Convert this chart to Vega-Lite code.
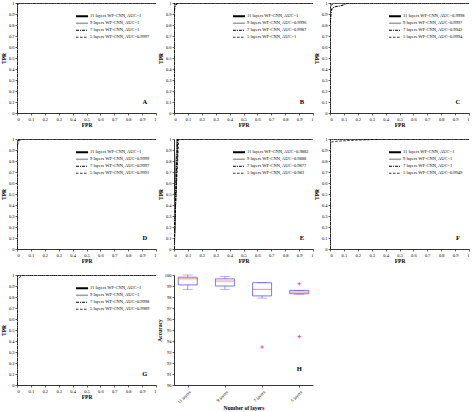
{
"$schema": "https://vega.github.io/schema/vega-lite/v6.json",
"padding": {"left": 1, "top": 0, "right": 1, "bottom": 0},
"columns": 3,
"spacing": {"row": 8, "column": 0},
"datasets": {
"roc": [
{"p":"A","k":0,"label":"11 layers WF-CNN, AUC=1","i":0,"fpr":0,"tpr":0},
{"p":"A","k":0,"label":"11 layers WF-CNN, AUC=1","i":1,"fpr":0,"tpr":1},
{"p":"A","k":0,"label":"11 layers WF-CNN, AUC=1","i":2,"fpr":1,"tpr":1},
{"p":"A","k":1,"label":"9 layers WF-CNN, AUC=1","i":0,"fpr":0,"tpr":0},
{"p":"A","k":1,"label":"9 layers WF-CNN, AUC=1","i":1,"fpr":0,"tpr":1},
{"p":"A","k":1,"label":"9 layers WF-CNN, AUC=1","i":2,"fpr":1,"tpr":1},
{"p":"A","k":2,"label":"7 layers WF-CNN, AUC=1","i":0,"fpr":0,"tpr":0},
{"p":"A","k":2,"label":"7 layers WF-CNN, AUC=1","i":1,"fpr":0,"tpr":1},
{"p":"A","k":2,"label":"7 layers WF-CNN, AUC=1","i":2,"fpr":1,"tpr":1},
{"p":"A","k":3,"label":"5 layers WF-CNN, AUC=0.9997","i":0,"fpr":0,"tpr":0},
{"p":"A","k":3,"label":"5 layers WF-CNN, AUC=0.9997","i":1,"fpr":0,"tpr":0.98},
{"p":"A","k":3,"label":"5 layers WF-CNN, AUC=0.9997","i":2,"fpr":0.01,"tpr":0.99},
{"p":"A","k":3,"label":"5 layers WF-CNN, AUC=0.9997","i":3,"fpr":0.02,"tpr":1},
{"p":"A","k":3,"label":"5 layers WF-CNN, AUC=0.9997","i":4,"fpr":1,"tpr":1},

{"p":"B","k":0,"label":"11 layers WF-CNN, AUC=1","i":0,"fpr":0,"tpr":0},
{"p":"B","k":0,"label":"11 layers WF-CNN, AUC=1","i":1,"fpr":0,"tpr":1},
{"p":"B","k":0,"label":"11 layers WF-CNN, AUC=1","i":2,"fpr":1,"tpr":1},
{"p":"B","k":1,"label":"9 layers WF-CNN, AUC=0.9996","i":0,"fpr":0,"tpr":0},
{"p":"B","k":1,"label":"9 layers WF-CNN, AUC=0.9996","i":1,"fpr":0,"tpr":0.97},
{"p":"B","k":1,"label":"9 layers WF-CNN, AUC=0.9996","i":2,"fpr":0.01,"tpr":0.99},
{"p":"B","k":1,"label":"9 layers WF-CNN, AUC=0.9996","i":3,"fpr":0.02,"tpr":1},
{"p":"B","k":1,"label":"9 layers WF-CNN, AUC=0.9996","i":4,"fpr":1,"tpr":1},
{"p":"B","k":2,"label":"7 layers WF-CNN, AUC=0.9987","i":0,"fpr":0,"tpr":0},
{"p":"B","k":2,"label":"7 layers WF-CNN, AUC=0.9987","i":1,"fpr":0,"tpr":0.88},
{"p":"B","k":2,"label":"7 layers WF-CNN, AUC=0.9987","i":2,"fpr":0.005,"tpr":0.95},
{"p":"B","k":2,"label":"7 layers WF-CNN, AUC=0.9987","i":3,"fpr":0.01,"tpr":0.98},
{"p":"B","k":2,"label":"7 layers WF-CNN, AUC=0.9987","i":4,"fpr":0.03,"tpr":1},
{"p":"B","k":2,"label":"7 layers WF-CNN, AUC=0.9987","i":5,"fpr":1,"tpr":1},
{"p":"B","k":3,"label":"5 layers WF-CNN, AUC=1","i":0,"fpr":0,"tpr":0},
{"p":"B","k":3,"label":"5 layers WF-CNN, AUC=1","i":1,"fpr":0,"tpr":1},
{"p":"B","k":3,"label":"5 layers WF-CNN, AUC=1","i":2,"fpr":1,"tpr":1},

{"p":"C","k":0,"label":"11 layers WF-CNN, AUC=0.9998","i":0,"fpr":0,"tpr":0},
{"p":"C","k":0,"label":"11 layers WF-CNN, AUC=0.9998","i":1,"fpr":0,"tpr":0.98},
{"p":"C","k":0,"label":"11 layers WF-CNN, AUC=0.9998","i":2,"fpr":0.01,"tpr":1},
{"p":"C","k":0,"label":"11 layers WF-CNN, AUC=0.9998","i":3,"fpr":1,"tpr":1},
{"p":"C","k":1,"label":"9 layers WF-CNN, AUC=0.9997","i":0,"fpr":0,"tpr":0},
{"p":"C","k":1,"label":"9 layers WF-CNN, AUC=0.9997","i":1,"fpr":0,"tpr":0.97},
{"p":"C","k":1,"label":"9 layers WF-CNN, AUC=0.9997","i":2,"fpr":0.01,"tpr":0.99},
{"p":"C","k":1,"label":"9 layers WF-CNN, AUC=0.9997","i":3,"fpr":0.02,"tpr":1},
{"p":"C","k":1,"label":"9 layers WF-CNN, AUC=0.9997","i":4,"fpr":1,"tpr":1},
{"p":"C","k":2,"label":"7 layers WF-CNN, AUC=0.9942","i":0,"fpr":0,"tpr":0},
{"p":"C","k":2,"label":"7 layers WF-CNN, AUC=0.9942","i":1,"fpr":0,"tpr":0.8},
{"p":"C","k":2,"label":"7 layers WF-CNN, AUC=0.9942","i":2,"fpr":0.01,"tpr":0.94},
{"p":"C","k":2,"label":"7 layers WF-CNN, AUC=0.9942","i":3,"fpr":0.03,"tpr":0.965},
{"p":"C","k":2,"label":"7 layers WF-CNN, AUC=0.9942","i":4,"fpr":0.08,"tpr":0.975},
{"p":"C","k":2,"label":"7 layers WF-CNN, AUC=0.9942","i":5,"fpr":0.13,"tpr":1},
{"p":"C","k":2,"label":"7 layers WF-CNN, AUC=0.9942","i":6,"fpr":1,"tpr":1},
{"p":"C","k":3,"label":"5 layers WF-CNN, AUC=0.9994","i":0,"fpr":0,"tpr":0},
{"p":"C","k":3,"label":"5 layers WF-CNN, AUC=0.9994","i":1,"fpr":0,"tpr":0.95},
{"p":"C","k":3,"label":"5 layers WF-CNN, AUC=0.9994","i":2,"fpr":0.01,"tpr":0.98},
{"p":"C","k":3,"label":"5 layers WF-CNN, AUC=0.9994","i":3,"fpr":0.03,"tpr":1},
{"p":"C","k":3,"label":"5 layers WF-CNN, AUC=0.9994","i":4,"fpr":1,"tpr":1},

{"p":"D","k":0,"label":"11 layers WF-CNN, AUC=1","i":0,"fpr":0,"tpr":0},
{"p":"D","k":0,"label":"11 layers WF-CNN, AUC=1","i":1,"fpr":0,"tpr":1},
{"p":"D","k":0,"label":"11 layers WF-CNN, AUC=1","i":2,"fpr":1,"tpr":1},
{"p":"D","k":1,"label":"9 layers WF-CNN, AUC=0.9999","i":0,"fpr":0,"tpr":0},
{"p":"D","k":1,"label":"9 layers WF-CNN, AUC=0.9999","i":1,"fpr":0,"tpr":0.99},
{"p":"D","k":1,"label":"9 layers WF-CNN, AUC=0.9999","i":2,"fpr":0.01,"tpr":1},
{"p":"D","k":1,"label":"9 layers WF-CNN, AUC=0.9999","i":3,"fpr":1,"tpr":1},
{"p":"D","k":2,"label":"7 layers WF-CNN, AUC=0.9997","i":0,"fpr":0,"tpr":0},
{"p":"D","k":2,"label":"7 layers WF-CNN, AUC=0.9997","i":1,"fpr":0,"tpr":0.97},
{"p":"D","k":2,"label":"7 layers WF-CNN, AUC=0.9997","i":2,"fpr":0.01,"tpr":0.99},
{"p":"D","k":2,"label":"7 layers WF-CNN, AUC=0.9997","i":3,"fpr":0.02,"tpr":1},
{"p":"D","k":2,"label":"7 layers WF-CNN, AUC=0.9997","i":4,"fpr":1,"tpr":1},
{"p":"D","k":3,"label":"5 layers WF-CNN, AUC=0.9991","i":0,"fpr":0,"tpr":0},
{"p":"D","k":3,"label":"5 layers WF-CNN, AUC=0.9991","i":1,"fpr":0,"tpr":0.93},
{"p":"D","k":3,"label":"5 layers WF-CNN, AUC=0.9991","i":2,"fpr":0.01,"tpr":0.97},
{"p":"D","k":3,"label":"5 layers WF-CNN, AUC=0.9991","i":3,"fpr":0.03,"tpr":1},
{"p":"D","k":3,"label":"5 layers WF-CNN, AUC=0.9991","i":4,"fpr":1,"tpr":1},

{"p":"E","k":0,"label":"11 layers WF-CNN, AUC=0.9882","i":0,"fpr":0,"tpr":0},
{"p":"E","k":0,"label":"11 layers WF-CNN, AUC=0.9882","i":1,"fpr":0.01,"tpr":0.5},
{"p":"E","k":0,"label":"11 layers WF-CNN, AUC=0.9882","i":2,"fpr":0.024,"tpr":1},
{"p":"E","k":0,"label":"11 layers WF-CNN, AUC=0.9882","i":3,"fpr":1,"tpr":1},
{"p":"E","k":1,"label":"9 layers WF-CNN, AUC=0.9888","i":0,"fpr":0,"tpr":0},
{"p":"E","k":1,"label":"9 layers WF-CNN, AUC=0.9888","i":1,"fpr":0.011,"tpr":0.5},
{"p":"E","k":1,"label":"9 layers WF-CNN, AUC=0.9888","i":2,"fpr":0.022,"tpr":1},
{"p":"E","k":1,"label":"9 layers WF-CNN, AUC=0.9888","i":3,"fpr":1,"tpr":1},
{"p":"E","k":2,"label":"7 layers WF-CNN, AUC=0.9877","i":0,"fpr":0,"tpr":0},
{"p":"E","k":2,"label":"7 layers WF-CNN, AUC=0.9877","i":1,"fpr":0.012,"tpr":0.5},
{"p":"E","k":2,"label":"7 layers WF-CNN, AUC=0.9877","i":2,"fpr":0.025,"tpr":1},
{"p":"E","k":2,"label":"7 layers WF-CNN, AUC=0.9877","i":3,"fpr":1,"tpr":1},
{"p":"E","k":3,"label":"5 layers WF-CNN, AUC=0.983","i":0,"fpr":0,"tpr":0},
{"p":"E","k":3,"label":"5 layers WF-CNN, AUC=0.983","i":1,"fpr":0.015,"tpr":0.5},
{"p":"E","k":3,"label":"5 layers WF-CNN, AUC=0.983","i":2,"fpr":0.034,"tpr":1},
{"p":"E","k":3,"label":"5 layers WF-CNN, AUC=0.983","i":3,"fpr":1,"tpr":1},

{"p":"F","k":0,"label":"11 layers WF-CNN, AUC=1","i":0,"fpr":0,"tpr":0},
{"p":"F","k":0,"label":"11 layers WF-CNN, AUC=1","i":1,"fpr":0,"tpr":1},
{"p":"F","k":0,"label":"11 layers WF-CNN, AUC=1","i":2,"fpr":1,"tpr":1},
{"p":"F","k":1,"label":"9 layers WF-CNN, AUC=1","i":0,"fpr":0,"tpr":0},
{"p":"F","k":1,"label":"9 layers WF-CNN, AUC=1","i":1,"fpr":0,"tpr":1},
{"p":"F","k":1,"label":"9 layers WF-CNN, AUC=1","i":2,"fpr":1,"tpr":1},
{"p":"F","k":2,"label":"7 layers WF-CNN, AUC=1","i":0,"fpr":0,"tpr":0},
{"p":"F","k":2,"label":"7 layers WF-CNN, AUC=1","i":1,"fpr":0,"tpr":1},
{"p":"F","k":2,"label":"7 layers WF-CNN, AUC=1","i":2,"fpr":1,"tpr":1},
{"p":"F","k":3,"label":"5 layers WF-CNN, AUC=0.9949","i":0,"fpr":0,"tpr":0},
{"p":"F","k":3,"label":"5 layers WF-CNN, AUC=0.9949","i":1,"fpr":0,"tpr":0.97},
{"p":"F","k":3,"label":"5 layers WF-CNN, AUC=0.9949","i":2,"fpr":0.05,"tpr":0.98},
{"p":"F","k":3,"label":"5 layers WF-CNN, AUC=0.9949","i":3,"fpr":0.2,"tpr":0.99},
{"p":"F","k":3,"label":"5 layers WF-CNN, AUC=0.9949","i":4,"fpr":0.4,"tpr":1},
{"p":"F","k":3,"label":"5 layers WF-CNN, AUC=0.9949","i":5,"fpr":1,"tpr":1},

{"p":"G","k":0,"label":"11 layers WF-CNN, AUC=1","i":0,"fpr":0,"tpr":0},
{"p":"G","k":0,"label":"11 layers WF-CNN, AUC=1","i":1,"fpr":0,"tpr":1},
{"p":"G","k":0,"label":"11 layers WF-CNN, AUC=1","i":2,"fpr":1,"tpr":1},
{"p":"G","k":1,"label":"9 layers WF-CNN, AUC=1","i":0,"fpr":0,"tpr":0},
{"p":"G","k":1,"label":"9 layers WF-CNN, AUC=1","i":1,"fpr":0,"tpr":1},
{"p":"G","k":1,"label":"9 layers WF-CNN, AUC=1","i":2,"fpr":1,"tpr":1},
{"p":"G","k":2,"label":"7 layers WF-CNN, AUC=0.9998","i":0,"fpr":0,"tpr":0},
{"p":"G","k":2,"label":"7 layers WF-CNN, AUC=0.9998","i":1,"fpr":0,"tpr":0.98},
{"p":"G","k":2,"label":"7 layers WF-CNN, AUC=0.9998","i":2,"fpr":0.01,"tpr":1},
{"p":"G","k":2,"label":"7 layers WF-CNN, AUC=0.9998","i":3,"fpr":1,"tpr":1},
{"p":"G","k":3,"label":"5 layers WF-CNN, AUC=0.9989","i":0,"fpr":0,"tpr":0},
{"p":"G","k":3,"label":"5 layers WF-CNN, AUC=0.9989","i":1,"fpr":0,"tpr":0.95},
{"p":"G","k":3,"label":"5 layers WF-CNN, AUC=0.9989","i":2,"fpr":0.01,"tpr":0.97},
{"p":"G","k":3,"label":"5 layers WF-CNN, AUC=0.9989","i":3,"fpr":0.03,"tpr":0.99},
{"p":"G","k":3,"label":"5 layers WF-CNN, AUC=0.9989","i":4,"fpr":0.05,"tpr":1},
{"p":"G","k":3,"label":"5 layers WF-CNN, AUC=0.9989","i":5,"fpr":1,"tpr":1}
],
"panels": [{"p":"A"},{"p":"B"},{"p":"C"},{"p":"D"},{"p":"E"},{"p":"F"},{"p":"G"}],
"box": [
{"layers":"11 layers","lower":98.7,"q1":99.1,"median":99.65,"q3":99.8,"upper":100},
{"layers":"9 layers","lower":98.7,"q1":99.0,"median":99.45,"q3":99.65,"upper":99.85},
{"layers":"7 layers","lower":97.9,"q1":98.1,"median":98.7,"q3":99.3,"upper":99.3},
{"layers":"5 layers","lower":98.25,"q1":98.3,"median":98.45,"q3":98.6,"upper":98.6}
],
"outliers": [
{"layers":"7 layers","acc":93.45},
{"layers":"5 layers","acc":99.2},
{"layers":"5 layers","acc":94.4}
]
},
"concat": [
{"width":139,"height":110,"layer":[
 {"data":{"name":"roc"},"transform":[{"filter":"datum.p === 'A'"}],"mark":{"type":"line","clip":true},
  "encoding":{
   "x":{"field":"fpr","type":"quantitative","scale":{"domain":[0,1]},"axis":{"values":[0,0.1,0.2,0.3,0.4,0.5,0.6,0.7,0.8,0.9,1],"format":"~g","labelOverlap":false,"title":"FPR"}},
   "y":{"field":"tpr","type":"quantitative","scale":{"domain":[0,1]},"axis":{"values":[0,0.1,0.2,0.3,0.4,0.5,0.6,0.7,0.8,0.9,1],"format":"~g","labelOverlap":false,"title":"TPR"}},
   "order":{"field":"i"},
   "strokeDash":{"field":"label","type":"ordinal","sort":{"field":"k","op":"min"},"scale":{"range":[[1,0],[1,0],[3,1,1,1],[2.5,1.5]]},"legend":{"title":null}},
   "color":{"field":"label","type":"ordinal","sort":{"field":"k","op":"min"},"scale":{"range":["#000000","#a0a0a0","#000000","#000000"]},"legend":{"title":null}},
   "strokeWidth":{"field":"label","type":"ordinal","sort":{"field":"k","op":"min"},"scale":{"range":[1.8,0.8,1,1]},"legend":{"title":null}}
  }},
 {"data":{"name":"panels"},"transform":[{"filter":"datum.p === 'A'"}],"mark":{"type":"text","fontWeight":"bold","fontSize":6.5},
  "encoding":{"x":{"datum":0.92,"type":"quantitative","axis":{"values":[0,0.1,0.2,0.3,0.4,0.5,0.6,0.7,0.8,0.9,1],"format":"~g","labelOverlap":false,"title":"FPR"}},"y":{"datum":0.1,"type":"quantitative","axis":{"values":[0,0.1,0.2,0.3,0.4,0.5,0.6,0.7,0.8,0.9,1],"format":"~g","labelOverlap":false,"title":"TPR"}},"text":{"field":"p"}}}
]},
{"width":139,"height":110,"layer":[
 {"data":{"name":"roc"},"transform":[{"filter":"datum.p === 'B'"}],"mark":{"type":"line","clip":true},
  "encoding":{
   "x":{"field":"fpr","type":"quantitative","scale":{"domain":[0,1]},"axis":{"values":[0,0.1,0.2,0.3,0.4,0.5,0.6,0.7,0.8,0.9,1],"format":"~g","labelOverlap":false,"title":"FPR"}},
   "y":{"field":"tpr","type":"quantitative","scale":{"domain":[0,1]},"axis":{"values":[0,0.1,0.2,0.3,0.4,0.5,0.6,0.7,0.8,0.9,1],"format":"~g","labelOverlap":false,"title":"TPR"}},
   "order":{"field":"i"},
   "strokeDash":{"field":"label","type":"ordinal","sort":{"field":"k","op":"min"},"scale":{"range":[[1,0],[1,0],[3,1,1,1],[2.5,1.5]]},"legend":{"title":null}},
   "color":{"field":"label","type":"ordinal","sort":{"field":"k","op":"min"},"scale":{"range":["#000000","#a0a0a0","#000000","#000000"]},"legend":{"title":null}},
   "strokeWidth":{"field":"label","type":"ordinal","sort":{"field":"k","op":"min"},"scale":{"range":[1.8,0.8,1,1]},"legend":{"title":null}}
  }},
 {"data":{"name":"panels"},"transform":[{"filter":"datum.p === 'B'"}],"mark":{"type":"text","fontWeight":"bold","fontSize":6.5},
  "encoding":{"x":{"datum":0.92,"type":"quantitative","axis":{"values":[0,0.1,0.2,0.3,0.4,0.5,0.6,0.7,0.8,0.9,1],"format":"~g","labelOverlap":false,"title":"FPR"}},"y":{"datum":0.1,"type":"quantitative","axis":{"values":[0,0.1,0.2,0.3,0.4,0.5,0.6,0.7,0.8,0.9,1],"format":"~g","labelOverlap":false,"title":"TPR"}},"text":{"field":"p"}}}
]},
{"width":139,"height":110,"layer":[
 {"data":{"name":"roc"},"transform":[{"filter":"datum.p === 'C'"}],"mark":{"type":"line","clip":true},
  "encoding":{
   "x":{"field":"fpr","type":"quantitative","scale":{"domain":[0,1]},"axis":{"values":[0,0.1,0.2,0.3,0.4,0.5,0.6,0.7,0.8,0.9,1],"format":"~g","labelOverlap":false,"title":"FPR"}},
   "y":{"field":"tpr","type":"quantitative","scale":{"domain":[0,1]},"axis":{"values":[0,0.1,0.2,0.3,0.4,0.5,0.6,0.7,0.8,0.9,1],"format":"~g","labelOverlap":false,"title":"TPR"}},
   "order":{"field":"i"},
   "strokeDash":{"field":"label","type":"ordinal","sort":{"field":"k","op":"min"},"scale":{"range":[[1,0],[1,0],[3,1,1,1],[2.5,1.5]]},"legend":{"title":null}},
   "color":{"field":"label","type":"ordinal","sort":{"field":"k","op":"min"},"scale":{"range":["#000000","#a0a0a0","#000000","#000000"]},"legend":{"title":null}},
   "strokeWidth":{"field":"label","type":"ordinal","sort":{"field":"k","op":"min"},"scale":{"range":[1.8,0.8,1,1]},"legend":{"title":null}}
  }},
 {"data":{"name":"panels"},"transform":[{"filter":"datum.p === 'C'"}],"mark":{"type":"text","fontWeight":"bold","fontSize":6.5},
  "encoding":{"x":{"datum":0.92,"type":"quantitative","axis":{"values":[0,0.1,0.2,0.3,0.4,0.5,0.6,0.7,0.8,0.9,1],"format":"~g","labelOverlap":false,"title":"FPR"}},"y":{"datum":0.1,"type":"quantitative","axis":{"values":[0,0.1,0.2,0.3,0.4,0.5,0.6,0.7,0.8,0.9,1],"format":"~g","labelOverlap":false,"title":"TPR"}},"text":{"field":"p"}}}
]},
{"width":139,"height":110,"layer":[
 {"data":{"name":"roc"},"transform":[{"filter":"datum.p === 'D'"}],"mark":{"type":"line","clip":true},
  "encoding":{
   "x":{"field":"fpr","type":"quantitative","scale":{"domain":[0,1]},"axis":{"values":[0,0.1,0.2,0.3,0.4,0.5,0.6,0.7,0.8,0.9,1],"format":"~g","labelOverlap":false,"title":"FPR"}},
   "y":{"field":"tpr","type":"quantitative","scale":{"domain":[0,1]},"axis":{"values":[0,0.1,0.2,0.3,0.4,0.5,0.6,0.7,0.8,0.9,1],"format":"~g","labelOverlap":false,"title":"TPR"}},
   "order":{"field":"i"},
   "strokeDash":{"field":"label","type":"ordinal","sort":{"field":"k","op":"min"},"scale":{"range":[[1,0],[1,0],[3,1,1,1],[2.5,1.5]]},"legend":{"title":null}},
   "color":{"field":"label","type":"ordinal","sort":{"field":"k","op":"min"},"scale":{"range":["#000000","#a0a0a0","#000000","#000000"]},"legend":{"title":null}},
   "strokeWidth":{"field":"label","type":"ordinal","sort":{"field":"k","op":"min"},"scale":{"range":[1.8,0.8,1,1]},"legend":{"title":null}}
  }},
 {"data":{"name":"panels"},"transform":[{"filter":"datum.p === 'D'"}],"mark":{"type":"text","fontWeight":"bold","fontSize":6.5},
  "encoding":{"x":{"datum":0.92,"type":"quantitative","axis":{"values":[0,0.1,0.2,0.3,0.4,0.5,0.6,0.7,0.8,0.9,1],"format":"~g","labelOverlap":false,"title":"FPR"}},"y":{"datum":0.1,"type":"quantitative","axis":{"values":[0,0.1,0.2,0.3,0.4,0.5,0.6,0.7,0.8,0.9,1],"format":"~g","labelOverlap":false,"title":"TPR"}},"text":{"field":"p"}}}
]},
{"width":139,"height":110,"layer":[
 {"data":{"name":"roc"},"transform":[{"filter":"datum.p === 'E'"}],"mark":{"type":"line","clip":true},
  "encoding":{
   "x":{"field":"fpr","type":"quantitative","scale":{"domain":[0,1]},"axis":{"values":[0,0.1,0.2,0.3,0.4,0.5,0.6,0.7,0.8,0.9,1],"format":"~g","labelOverlap":false,"title":"FPR"}},
   "y":{"field":"tpr","type":"quantitative","scale":{"domain":[0,1]},"axis":{"values":[0,0.1,0.2,0.3,0.4,0.5,0.6,0.7,0.8,0.9,1],"format":"~g","labelOverlap":false,"title":"TPR"}},
   "order":{"field":"i"},
   "strokeDash":{"field":"label","type":"ordinal","sort":{"field":"k","op":"min"},"scale":{"range":[[1,0],[1,0],[3,1,1,1],[2.5,1.5]]},"legend":{"title":null}},
   "color":{"field":"label","type":"ordinal","sort":{"field":"k","op":"min"},"scale":{"range":["#000000","#a0a0a0","#000000","#000000"]},"legend":{"title":null}},
   "strokeWidth":{"field":"label","type":"ordinal","sort":{"field":"k","op":"min"},"scale":{"range":[1.8,0.8,1,1]},"legend":{"title":null}}
  }},
 {"data":{"name":"panels"},"transform":[{"filter":"datum.p === 'E'"}],"mark":{"type":"text","fontWeight":"bold","fontSize":6.5},
  "encoding":{"x":{"datum":0.92,"type":"quantitative","axis":{"values":[0,0.1,0.2,0.3,0.4,0.5,0.6,0.7,0.8,0.9,1],"format":"~g","labelOverlap":false,"title":"FPR"}},"y":{"datum":0.1,"type":"quantitative","axis":{"values":[0,0.1,0.2,0.3,0.4,0.5,0.6,0.7,0.8,0.9,1],"format":"~g","labelOverlap":false,"title":"TPR"}},"text":{"field":"p"}}}
]},
{"width":139,"height":110,"layer":[
 {"data":{"name":"roc"},"transform":[{"filter":"datum.p === 'F'"}],"mark":{"type":"line","clip":true},
  "encoding":{
   "x":{"field":"fpr","type":"quantitative","scale":{"domain":[0,1]},"axis":{"values":[0,0.1,0.2,0.3,0.4,0.5,0.6,0.7,0.8,0.9,1],"format":"~g","labelOverlap":false,"title":"FPR"}},
   "y":{"field":"tpr","type":"quantitative","scale":{"domain":[0,1]},"axis":{"values":[0,0.1,0.2,0.3,0.4,0.5,0.6,0.7,0.8,0.9,1],"format":"~g","labelOverlap":false,"title":"TPR"}},
   "order":{"field":"i"},
   "strokeDash":{"field":"label","type":"ordinal","sort":{"field":"k","op":"min"},"scale":{"range":[[1,0],[1,0],[3,1,1,1],[2.5,1.5]]},"legend":{"title":null}},
   "color":{"field":"label","type":"ordinal","sort":{"field":"k","op":"min"},"scale":{"range":["#000000","#a0a0a0","#000000","#000000"]},"legend":{"title":null}},
   "strokeWidth":{"field":"label","type":"ordinal","sort":{"field":"k","op":"min"},"scale":{"range":[1.8,0.8,1,1]},"legend":{"title":null}}
  }},
 {"data":{"name":"panels"},"transform":[{"filter":"datum.p === 'F'"}],"mark":{"type":"text","fontWeight":"bold","fontSize":6.5},
  "encoding":{"x":{"datum":0.92,"type":"quantitative","axis":{"values":[0,0.1,0.2,0.3,0.4,0.5,0.6,0.7,0.8,0.9,1],"format":"~g","labelOverlap":false,"title":"FPR"}},"y":{"datum":0.1,"type":"quantitative","axis":{"values":[0,0.1,0.2,0.3,0.4,0.5,0.6,0.7,0.8,0.9,1],"format":"~g","labelOverlap":false,"title":"TPR"}},"text":{"field":"p"}}}
]},
{"width":139,"height":110,"layer":[
 {"data":{"name":"roc"},"transform":[{"filter":"datum.p === 'G'"}],"mark":{"type":"line","clip":true},
  "encoding":{
   "x":{"field":"fpr","type":"quantitative","scale":{"domain":[0,1]},"axis":{"values":[0,0.1,0.2,0.3,0.4,0.5,0.6,0.7,0.8,0.9,1],"format":"~g","labelOverlap":false,"title":"FPR"}},
   "y":{"field":"tpr","type":"quantitative","scale":{"domain":[0,1]},"axis":{"values":[0,0.1,0.2,0.3,0.4,0.5,0.6,0.7,0.8,0.9,1],"format":"~g","labelOverlap":false,"title":"TPR"}},
   "order":{"field":"i"},
   "strokeDash":{"field":"label","type":"ordinal","sort":{"field":"k","op":"min"},"scale":{"range":[[1,0],[1,0],[3,1,1,1],[2.5,1.5]]},"legend":{"title":null}},
   "color":{"field":"label","type":"ordinal","sort":{"field":"k","op":"min"},"scale":{"range":["#000000","#a0a0a0","#000000","#000000"]},"legend":{"title":null}},
   "strokeWidth":{"field":"label","type":"ordinal","sort":{"field":"k","op":"min"},"scale":{"range":[1.8,0.8,1,1]},"legend":{"title":null}}
  }},
 {"data":{"name":"panels"},"transform":[{"filter":"datum.p === 'G'"}],"mark":{"type":"text","fontWeight":"bold","fontSize":6.5},
  "encoding":{"x":{"datum":0.92,"type":"quantitative","axis":{"values":[0,0.1,0.2,0.3,0.4,0.5,0.6,0.7,0.8,0.9,1],"format":"~g","labelOverlap":false,"title":"FPR"}},"y":{"datum":0.1,"type":"quantitative","axis":{"values":[0,0.1,0.2,0.3,0.4,0.5,0.6,0.7,0.8,0.9,1],"format":"~g","labelOverlap":false,"title":"TPR"}},"text":{"field":"p"}}}
]},
{"width":139,"height":110,
 "encoding":{
  "x":{"field":"layers","type":"nominal","sort":["11 layers","9 layers","7 layers","5 layers"],"scale":{"type":"point","padding":0.37},"axis":{"labelAngle":-45,"title":"Number of layers","labelPadding":2,"labelOverlap":false}},
  "y":{"type":"quantitative","scale":{"domain":[90,100]},"axis":{"values":[90,91,92,93,94,95,96,97,98,99,100],"format":"d","title":"Accuracy","labelOverlap":false}}
 },
 "layer":[
 {"data":{"name":"box"},"mark":{"type":"rule","color":"#6a6ae0","strokeWidth":0.7},"encoding":{"y":{"field":"lower","type":"quantitative"},"y2":{"field":"q1"}}},
 {"data":{"name":"box"},"mark":{"type":"rule","color":"#6a6ae0","strokeWidth":0.7},"encoding":{"y":{"field":"q3","type":"quantitative"},"y2":{"field":"upper"}}},
 {"data":{"name":"box"},"mark":{"type":"tick","color":"#6a6ae0","size":10,"thickness":0.7},"encoding":{"y":{"field":"lower","type":"quantitative"}}},
 {"data":{"name":"box"},"mark":{"type":"tick","color":"#6a6ae0","size":10,"thickness":0.7},"encoding":{"y":{"field":"upper","type":"quantitative"}}},
 {"data":{"name":"box"},"mark":{"type":"bar","size":19,"fill":"white","fillOpacity":0,"stroke":"#5a5ae0","strokeWidth":0.8},"encoding":{"y":{"field":"q1","type":"quantitative"},"y2":{"field":"q3"}}},
 {"data":{"name":"box"},"mark":{"type":"tick","color":"#e03a2a","size":19,"thickness":0.8},"encoding":{"y":{"field":"median","type":"quantitative"}}},
 {"data":{"name":"outliers"},"mark":{"type":"point","shape":"M-1,0L1,0M0,-1L0,1","filled":false,"stroke":"#d0306a","strokeWidth":0.7,"size":14,"opacity":1},"encoding":{"y":{"field":"acc","type":"quantitative"}}},
 {"data":{"values":[{"t":"H"}]},"mark":{"type":"text","fontWeight":"bold","fontSize":6.5},"encoding":{"x":{"datum":"5 layers"},"y":{"datum":91.5},"text":{"field":"t"}}}
 ]}
],
"resolve": {
 "scale": {"color":"independent","strokeDash":"independent","strokeWidth":"independent","x":"independent","y":"independent"},
 "legend": {"color":"independent","strokeDash":"independent","strokeWidth":"independent"}
},
"config": {
 "font": "Liberation Serif",
 "view": {"stroke": null},
 "axis": {"grid": false, "labelOverlap": false, "domainColor":"#000000","tickColor":"#000000","labelColor":"#000000","titleColor":"#000000","labelFontSize":4.5,"titleFontSize":5.5,"titleFontWeight":"bold","labelPadding":1,"titlePadding":2,"tickSize":2,"domainWidth":0.8,"tickWidth":0.6,"labelFont":"Liberation Serif","titleFont":"Liberation Serif"},
 "legend": {"orient":"none","legendX":58,"legendY":10,"labelFontSize":4.5,"labelFont":"Liberation Serif","labelColor":"#000000","symbolType":"stroke","symbolSize":144,"clipHeight":6.5,"rowPadding":0,"labelOffset":1,"labelLimit":0,"padding":0},
 "text": {"font": "Liberation Serif"}
}
}
